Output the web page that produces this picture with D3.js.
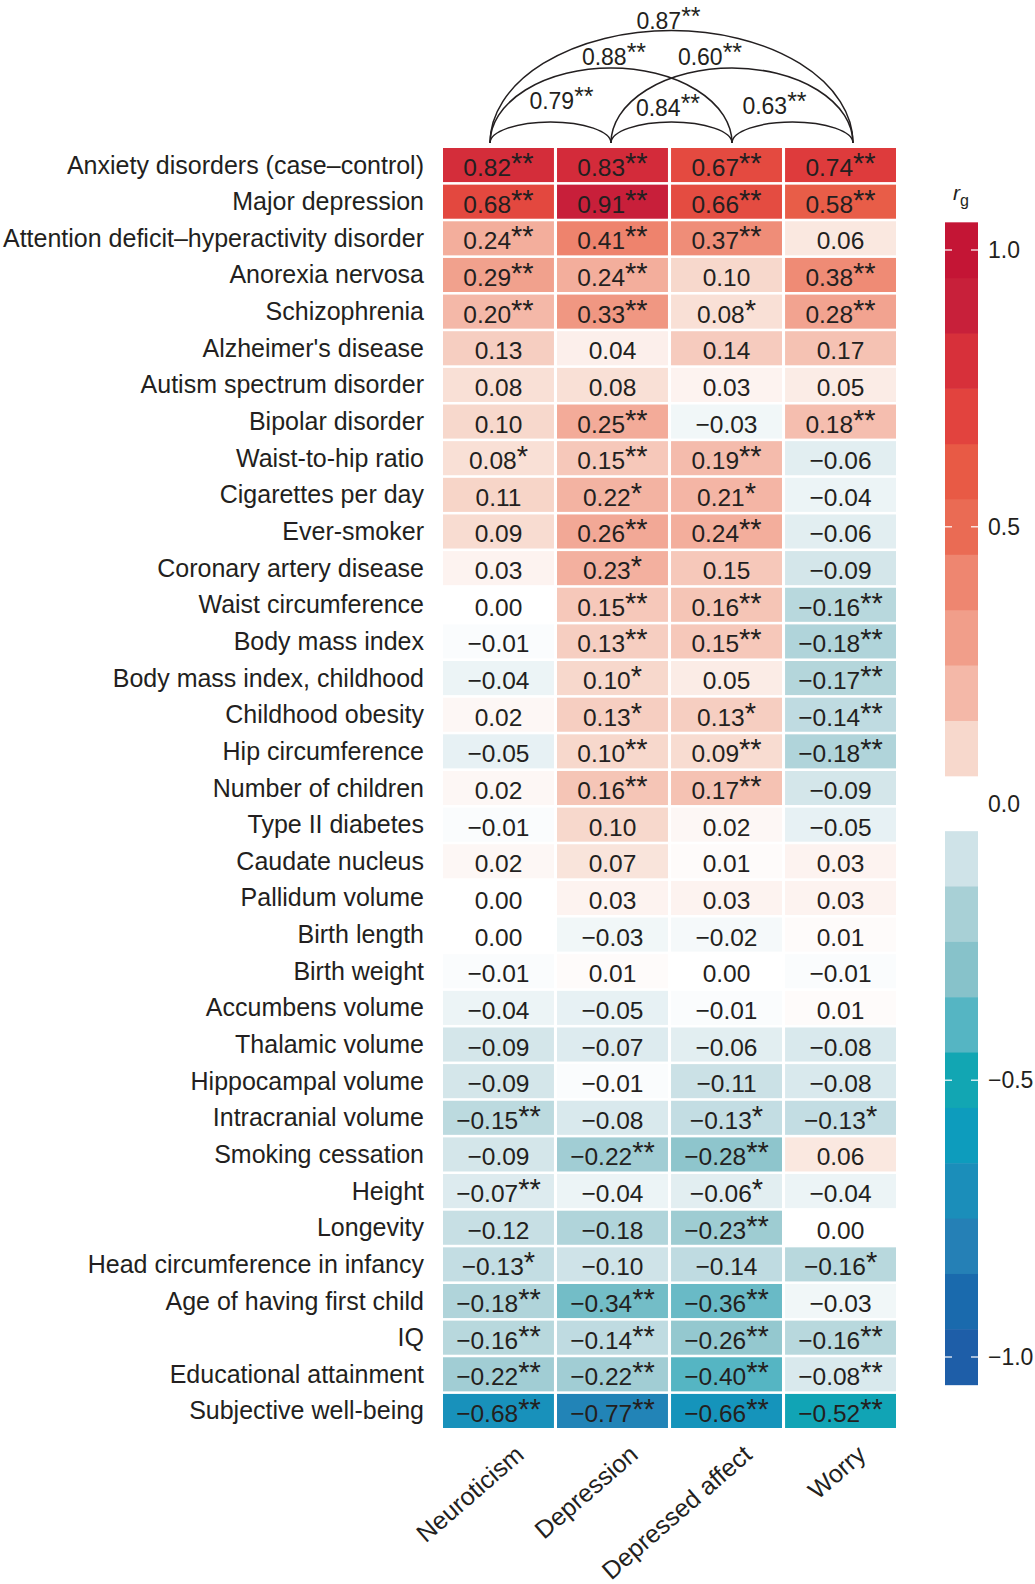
<!DOCTYPE html>
<html>
<head>
<meta charset="utf-8">
<script src="https://cdn.jsdelivr.net/npm/d3@7"></script>
<style>
  body { margin: 0; background: #fff; }
  text { font-family: "Liberation Sans", Arial, Helvetica, sans-serif; fill: #231f20; }
</style>
</head>
<body>
<div id="chart"></div>
<script>
// ---- data ----
const traits = ["Neuroticism", "Depression", "Depressed affect", "Worry"]

const phenotypes = [
  "Anxiety disorders (case\u2013control)", "Major depression", "Attention deficit\u2013hyperactivity disorder",
  "Anorexia nervosa", "Schizophrenia", "Alzheimer's disease", "Autism spectrum disorder", "Bipolar disorder",
  "Waist-to-hip ratio", "Cigarettes per day", "Ever-smoker", "Coronary artery disease", "Waist circumference",
  "Body mass index", "Body mass index, childhood", "Childhood obesity", "Hip circumference", "Number of children",
  "Type II diabetes", "Caudate nucleus", "Pallidum volume", "Birth length", "Birth weight", "Accumbens volume",
  "Thalamic volume", "Hippocampal volume", "Intracranial volume", "Smoking cessation", "Height", "Longevity",
  "Head circumference in infancy", "Age of having first child", "IQ", "Educational attainment", "Subjective well-being"
]

// rg per phenotype, columns in the order of traits
const rgValues = [
  [0.82, 0.83, 0.67, 0.74], [0.68, 0.91, 0.66, 0.58], [0.24, 0.41, 0.37, 0.06], [0.29, 0.24, 0.10, 0.38],
  [0.20, 0.33, 0.08, 0.28], [0.13, 0.04, 0.14, 0.17], [0.08, 0.08, 0.03, 0.05], [0.10, 0.25, -0.03, 0.18],
  [0.08, 0.15, 0.19, -0.06], [0.11, 0.22, 0.21, -0.04], [0.09, 0.26, 0.24, -0.06], [0.03, 0.23, 0.15, -0.09],
  [0.00, 0.15, 0.16, -0.16], [-0.01, 0.13, 0.15, -0.18], [-0.04, 0.10, 0.05, -0.17], [0.02, 0.13, 0.13, -0.14],
  [-0.05, 0.10, 0.09, -0.18], [0.02, 0.16, 0.17, -0.09], [-0.01, 0.10, 0.02, -0.05], [0.02, 0.07, 0.01, 0.03],
  [0.00, 0.03, 0.03, 0.03], [0.00, -0.03, -0.02, 0.01], [-0.01, 0.01, 0.00, -0.01], [-0.04, -0.05, -0.01, 0.01],
  [-0.09, -0.07, -0.06, -0.08], [-0.09, -0.01, -0.11, -0.08], [-0.15, -0.08, -0.13, -0.13], [-0.09, -0.22, -0.28, 0.06],
  [-0.07, -0.04, -0.06, -0.04], [-0.12, -0.18, -0.23, 0.00], [-0.13, -0.10, -0.14, -0.16], [-0.18, -0.34, -0.36, -0.03],
  [-0.16, -0.14, -0.26, -0.16], [-0.22, -0.22, -0.40, -0.08], [-0.68, -0.77, -0.66, -0.52]
]

// significance marks, same layout as rgValues
const rgStars = [
  ["**", "**", "**", "**"], ["**", "**", "**", "**"], ["**", "**", "**", ""], ["**", "**", "", "**"],
  ["**", "**", "*", "**"], ["", "", "", ""], ["", "", "", ""], ["", "**", "", "**"],
  ["*", "**", "**", ""], ["", "*", "*", ""], ["", "**", "**", ""], ["", "*", "", ""],
  ["", "**", "**", "**"], ["", "**", "**", "**"], ["", "*", "", "**"], ["", "*", "*", "**"],
  ["", "**", "**", "**"], ["", "**", "**", ""], ["", "", "", ""], ["", "", "", ""],
  ["", "", "", ""], ["", "", "", ""], ["", "", "", ""], ["", "", "", ""],
  ["", "", "", ""], ["", "", "", ""], ["**", "", "*", "*"], ["", "**", "**", ""],
  ["**", "", "*", ""], ["", "", "**", ""], ["*", "", "", "*"], ["**", "**", "**", ""],
  ["**", "**", "**", "**"], ["**", "**", "**", "**"], ["**", "**", "**", "**"]
]

// genetic correlations among the four traits (arcs on top)
const traitLinks = [
  { source: "Neuroticism", target: "Depression", rg: 0.79, stars: "**" },
  { source: "Depression", target: "Depressed affect", rg: 0.84, stars: "**" },
  { source: "Depressed affect", target: "Worry", rg: 0.63, stars: "**" },
  { source: "Neuroticism", target: "Depressed affect", rg: 0.88, stars: "**" },
  { source: "Depression", target: "Worry", rg: 0.60, stars: "**" },
  { source: "Neuroticism", target: "Worry", rg: 0.87, stars: "**" }
]

const legendTicks = [1.0, 0.5, 0.0, -0.5, -1.0]
const stepValues = [0.1, 0.2, 0.3, 0.4, 0.5, 0.6, 0.7, 0.8, 0.9, 1.0]
const redSteps = ["#f7d8cc", "#f4b8a8", "#f19e8a", "#ee8670", "#ea6b54", "#e85a45", "#e2433e", "#d7303a", "#c8203a", "#c41535"]
const blueSteps = ["#cfe3e8", "#a8d0d6", "#87c2ca", "#55b5c3", "#12a6b3", "#0d9cbd", "#1b8eba", "#2580b6", "#1a6aad", "#1e5ea8"]

// ---- layout ----
const W = 1035, H = 1584
const svg = d3.select("#chart").append("svg")
  .attr("width", W).attr("height", H)

const color = d3.scaleLinear()
  .domain([...stepValues.map(v => -v).reverse(), 0, ...stepValues])
  .range([...blueSteps.slice().reverse(), "#ffffff", ...redSteps])
  .clamp(true)

const x = d3.scaleBand().domain(traits).range([443, 896]).paddingInner(0.027)
const y = d3.scaleBand().domain(phenotypes).range([148, 1428]).paddingInner(0.07)
const fmt = d3.format(".2f")

// cells
const cells = []
phenotypes.forEach((p, i) => {
  traits.forEach((t, j) => {
    cells.push({ phenotype: p, trait: t, value: rgValues[i][j], stars: rgStars[i][j] })
  })
})

const cell = svg.append("g").selectAll("g")
  .data(cells)
  .enter()
  .append("g")

cell.append("rect")
  .attr("x", d => x(d.trait))
  .attr("y", d => y(d.phenotype))
  .attr("width", x.bandwidth())
  .attr("height", y.bandwidth())
  .style("fill", d => color(d.value))

let label = cell.append("text")
  .attr("x", d => x(d.trait) + x.bandwidth() / 2)
  .attr("y", d => y(d.phenotype) + y.bandwidth() / 2 + 11)
  .attr("text-anchor", "middle")
  .style("font-size", "24.5px")
label.append("tspan").text(d => fmt(d.value))
label.filter(d => d.stars).append("tspan")
  .attr("dy", -3)
  .style("font-size", "29px")
  .text(d => d.stars)

// row labels
svg.append("g").selectAll("text")
  .data(phenotypes)
  .enter()
  .append("text")
  .attr("x", 424)
  .attr("y", d => y(d) + y.bandwidth() / 2 + 8.5)
  .attr("text-anchor", "end")
  .style("font-size", "25px")
  .text(d => d)

// column labels
svg.append("g").selectAll("text")
  .data(traits)
  .enter()
  .append("text")
  .attr("text-anchor", "end")
  .attr("transform", d => "translate(" + (x(d) + x.bandwidth() / 2 + 27) + ",1457) rotate(-41)")
  .style("font-size", "25px")
  .text(d => d)

// arcs between traits
const node = d3.scalePoint().domain(traits).range([490, 853])
const arcBase = 143
const arcHeight = [0, 21, 75, 112.5]   // by span
// nudges of the arc labels from the top of their arc
const linkLabelNudge = [[11, -13], [-3.5, -6], [-18, -8], [3, -3.5], [-22, -3.5], [-3, -2]]

const links = svg.append("g")
traitLinks.forEach((l, i) => {
  let x1 = node(l.source), x2 = node(l.target)
  let span = traits.indexOf(l.target) - traits.indexOf(l.source)
  let ry = arcHeight[span]
  links.append("path")
    .attr("d", "M" + x1 + "," + arcBase + " A" + (x2 - x1) / 2 + "," + ry + " 0 0 1 " + x2 + "," + arcBase)
    .style("fill", "none")
    .style("stroke", "#231f20")
    .style("stroke-width", "1.5px")
  let t = links.append("text")
    .attr("x", (x1 + x2) / 2 + linkLabelNudge[i][0])
    .attr("y", arcBase - ry + linkLabelNudge[i][1])
    .attr("text-anchor", "middle")
    .style("font-size", "23px")
  t.append("tspan").text(fmt(l.rg))
  t.append("tspan").attr("dy", -4).style("font-size", "25px").text(l.stars)
})

// colour legend
const ly = d3.scaleLinear().domain([1, -1]).range([250, 1357])
const lx0 = 945, lx1 = 978
const legend = svg.append("g")
const bands = [...stepValues, ...stepValues.map(v => -v)]
legend.selectAll("rect")
  .data(bands)
  .enter()
  .append("rect")
  .attr("x", lx0)
  .attr("width", lx1 - lx0)
  .attr("y", d => ly(d + 0.05))
  .attr("height", d => ly(d - 0.05) - ly(d + 0.05) + 0.5)
  .style("fill", d => color(d))

legendTicks.filter(d => d !== 0).forEach(d => {
  legend.append("line")
    .attr("x1", lx0).attr("x2", lx0 + 7)
    .attr("y1", ly(d)).attr("y2", ly(d))
    .style("stroke", "#fff").style("stroke-opacity", 0.8).style("stroke-width", "1.5px")
  legend.append("line")
    .attr("x1", lx1 - 7).attr("x2", lx1)
    .attr("y1", ly(d)).attr("y2", ly(d))
    .style("stroke", "#fff").style("stroke-opacity", 0.8).style("stroke-width", "1.5px")
})

legend.selectAll(".tick-label")
  .data(legendTicks)
  .enter()
  .append("text")
  .attr("class", "tick-label")
  .attr("x", 988)
  .attr("y", d => ly(d) + 8)
  .style("font-size", "23px")
  .text(d => d3.format(".1f")(d))

let title = legend.append("text")
  .attr("x", 953)
  .attr("y", 200)
  .style("font-size", "21px")
title.append("tspan").style("font-style", "italic").text("r")
title.append("tspan").attr("dy", 6).style("font-size", "16px").text("g")
</script>
</body>
</html>
